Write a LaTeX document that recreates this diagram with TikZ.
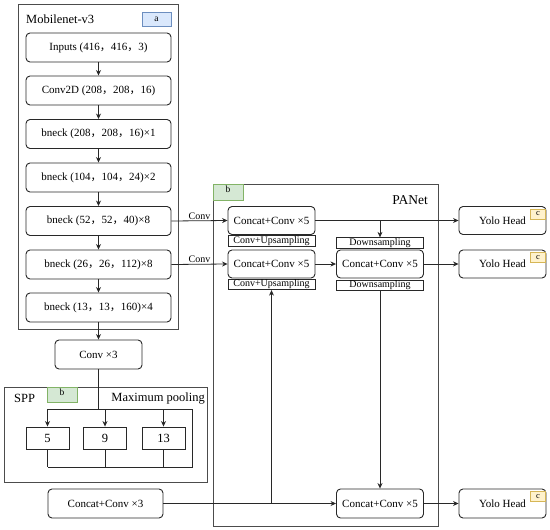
\documentclass[tikz,border=0pt]{standalone}
\usepackage{fontspec}
\setmainfont{Liberation Serif}
\newfontfamily\cjk{Noto Sans CJK SC}
\usetikzlibrary{arrows.meta}
\newcommand{\fc}{{\cjk ，}}
\definecolor{lnc}{RGB}{40,40,40}
\definecolor{abg}{RGB}{218,232,252}\definecolor{abd}{RGB}{108,142,191}
\definecolor{bbg}{RGB}{213,232,212}\definecolor{bbd}{RGB}{130,179,102}
\definecolor{cbg}{RGB}{255,242,204}\definecolor{cbd}{RGB}{214,182,86}
\tikzset{
  rbox/.style={draw=lnc, line width=0.9pt, rounded corners=4pt, fill=white, inner sep=0pt,
    font=\fontsize{11}{13}\selectfont, minimum height=29pt},
  sbox/.style={draw=lnc, line width=0.8pt, fill=white, inner sep=0pt,
    font=\fontsize{10}{10}\selectfont, minimum width=87pt, minimum height=10.5pt},
  pbox/.style={draw=lnc, line width=0.9pt, fill=white, inner sep=0pt,
    font=\fontsize{12.5}{14}\selectfont, minimum width=43pt, minimum height=22pt},
  frame/.style={draw=black!70, line width=1pt},
  ln/.style={draw=lnc, line width=0.8pt},
  arr/.style={ln, -{Stealth[length=5.5pt,width=5pt]}},
  badge/.style={line width=0.6pt, inner sep=0pt, font=\fontsize{9.5}{10}\selectfont},
  ttl/.style={inner sep=0pt, font=\fontsize{12.5}{14}\selectfont},
  cl/.style={inner sep=1pt, font=\fontsize{10}{11}\selectfont}
}
\begin{document}
\begin{tikzpicture}[x=1pt,y=-1pt]
\useasboundingbox (0,0) rectangle (550,530);
% frames
\draw[frame] (18,4) rectangle (178,329);
\draw[frame] (4,387) rectangle (207,482);
\draw[frame] (213,184) rectangle (438,526);
\node[ttl, anchor=west] (mtitle) at (26,19) {Mobilenet-v3};
\node[badge, draw=abd, fill=abg, minimum width=29pt, minimum height=14pt] (ba) at (156.5,19) {a};
\node[ttl, anchor=west] (spptitle) at (14,398.5) {SPP};
\node[badge, draw=bbd, fill=bbg, minimum width=30pt, minimum height=15pt, text depth=5pt] (bb1) at (62,394.5) {b};
\node[ttl, anchor=east] (mptitle) at (205,398.5) {Maximum pooling};
\node[badge, draw=bbd, fill=bbg, minimum width=30pt, minimum height=16pt, text depth=5pt] (bb2) at (228,192) {b};
\node[ttl, anchor=east, font=\fontsize{13.5}{15}\selectfont] (pantitle) at (428,200) {PANet};
% backbone
\node[rbox, minimum width=145pt] (in) at (98.5,47.5) {Inputs (416\fc416\fc3)};
\node[rbox, minimum width=145pt] (c2d) at (98.5,90.5) {Conv2D (208\fc208\fc16)};
\node[rbox, minimum width=145pt] (b1) at (98.5,134) {bneck (208\fc208\fc16)×1};
\node[rbox, minimum width=145pt] (b2) at (98.5,177.5) {bneck (104\fc104\fc24)×2};
\node[rbox, minimum width=145pt] (b3) at (98.5,221) {bneck (52\fc52\fc40)×8};
\node[rbox, minimum width=145pt] (b4) at (98.5,264.5) {bneck (26\fc26\fc112)×8};
\node[rbox, minimum width=145pt] (b5) at (98.5,307.5) {bneck (13\fc13\fc160)×4};
\node[rbox, minimum width=87pt] (c3) at (98.5,354.5) {Conv ×3};
\draw[arr] (in) -- (c2d);
\draw[arr] (c2d) -- (b1);
\draw[arr] (b1) -- (b2);
\draw[arr] (b2) -- (b3);
\draw[arr] (b3) -- (b4);
\draw[arr] (b4) -- (b5);
\draw[arr] (b5) -- (c3);
% SPP
\node[pbox] (p5) at (47.5,438) {5};
\node[pbox] (p9) at (105,438) {9};
\node[pbox] (p13) at (163.5,438) {13};
\coordinate (tl) at (47.5,409);
\coordinate (tm) at (98.5,409);
\coordinate (tr) at (192,409);
\coordinate (br) at (192,467);
\coordinate (bl) at (47.5,467);
\draw[ln] (c3) -- (tm);
\draw[ln] (tl) -- (tr) -- (br) -- (bl);
\draw[arr] (tl) -- (p5);
\draw[arr] (p9 |- tl) -- (p9);
\draw[arr] (p13 |- tl) -- (p13);
\draw[ln] (p5) -- (bl);
\draw[ln] (p9) -- (p9 |- bl);
\draw[ln] (p13) -- (p13 |- bl);
\node[rbox, minimum width=115pt] (cc3) at (105.5,503.5) {Concat+Conv ×3};
% PANet
\node[rbox, minimum width=87pt, minimum height=28pt] (P1) at (271.5,220.5) {Concat+Conv ×5};
\node[sbox] (U1) at (271.5,241) {Conv+Upsampling};
\node[rbox, minimum width=87pt, minimum height=28pt] (P2) at (271.5,264) {Concat+Conv ×5};
\node[sbox] (U2) at (271.5,284.5) {Conv+Upsampling};
\node[sbox] (D1) at (380,243) {Downsampling};
\node[rbox, minimum width=87pt, minimum height=28pt] (P3) at (380,264) {Concat+Conv ×5};
\node[sbox] (D2) at (380,285.5) {Downsampling};
\node[rbox, minimum width=87pt, minimum height=29pt] (P4) at (380,503.5) {Concat+Conv ×5};
% heads
\node[rbox, minimum width=87pt, minimum height=28pt] (Y1) at (502.5,220.5) {Yolo Head};
\node[rbox, minimum width=87pt, minimum height=28pt] (Y2) at (502.5,264) {Yolo Head};
\node[rbox, minimum width=87pt, minimum height=29pt] (Y3) at (502.5,503.5) {Yolo Head};
\foreach \y/\n in {Y1/c1,Y2/c2,Y3/c3b}{
  \node[badge, draw=cbd, fill=cbg, minimum width=15.5pt, minimum height=10pt, anchor=north east, font=\fontsize{8.5}{9}\selectfont] (\n) at ([xshift=-0.5pt,yshift=-2.5pt]\y.north east) {c};
}
% connectors
\draw[arr] (b3.east) -- node[cl, above] {Conv} (P1.west);
\draw[arr] (b4.east) -- node[cl, above] {Conv} (P2.west);
\draw[arr] (P1) -- (Y1);
\coordinate (j1) at (380,220.5);
\draw[arr] (j1) -- (D1);
\draw[arr] (P2) -- (P3);
\draw[arr] (P3) -- (Y2);
\draw[arr] (D2) -- (P4);
\draw[arr] (cc3) -- (P4);
\coordinate (j2) at (271.5,503.5);
\draw[arr] (j2) -- (U2);
\draw[arr] (P4) -- (Y3);
\end{tikzpicture}
\end{document}
